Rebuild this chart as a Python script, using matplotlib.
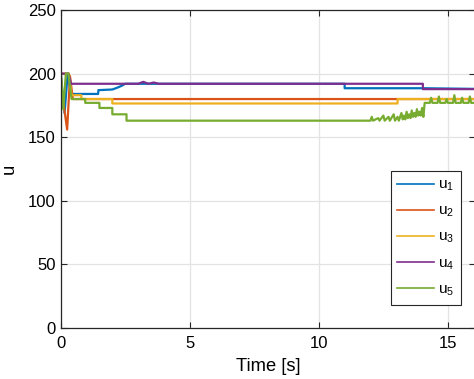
import matplotlib
matplotlib.use("Agg")
import matplotlib.pyplot as plt

plt.rcParams["font.family"] = ["Liberation Sans", "DejaVu Sans"]
plt.rcParams["mathtext.fontset"] = "custom"
plt.rcParams["mathtext.rm"] = "Liberation Sans"
plt.rcParams["mathtext.it"] = "Liberation Sans"

# --- data ---
t_u1 = [0, 0.15, 0.27, 0.4, 1.45, 1.46, 2.0, 2.2, 2.37, 2.5, 11.0, 11.0, 14.05, 16.05]
u1 = [200, 169, 200, 184, 184, 187, 187.5, 189, 190.5, 192, 192, 188.5, 188.5, 188]

t_u2 = [0, 0.05, 0.25, 0.36, 0.47, 16.05]
u2 = [200, 185, 156, 198, 180, 180]

t_u3 = [0, 0.32, 0.42, 0.8, 0.8, 2.0, 2.0, 13.05, 13.05, 16.05]
u3 = [200, 200, 183, 183, 180, 180, 176.5, 176.5, 180, 180]

t_u4 = [0, 0.3, 0.4, 3.0, 3.2, 3.4, 3.6, 3.8, 14.03, 14.03, 16.05]
u4 = [200, 200, 192, 192, 193.5, 192, 193, 192, 192, 187.8, 187.8]

t_u5 = [0, 0.01, 0.1, 0.2, 0.3, 0.42, 0.95, 0.95, 1.5, 1.5, 2.0, 2.0, 2.55, 2.55,
        12.0, 12.05, 12.1, 12.3, 12.35, 12.5, 12.55, 12.7, 12.75, 12.9, 12.95,
        13.05, 13.1, 13.2, 13.25, 13.3, 13.35, 13.4, 13.45, 13.5, 13.55, 13.6,
        13.65, 13.7, 13.75, 13.8, 13.85, 13.9, 13.95, 14.0, 14.05, 14.1,
        14.3, 14.35, 14.4, 14.6, 14.65, 14.7, 14.9, 14.95, 15.0, 15.2, 15.25,
        15.3, 15.5, 15.55, 15.6, 15.8, 15.85, 15.9, 16.05]
u5 = [0, 200, 172, 200, 200, 180, 180, 177, 177, 173, 173, 168, 168, 163,
      163, 166, 163, 165, 163, 167, 163, 166, 163, 168, 163,
      166, 163, 169, 164, 167, 164, 170, 165, 168, 165, 171,
      166, 169, 166, 172, 167, 170, 167, 173, 166, 177,
      177, 181, 177, 177, 182, 177, 177, 180, 177, 177, 183,
      177, 177, 181, 177, 177, 182, 177, 177]

series = [(t_u1, u1), (t_u2, u2), (t_u3, u3), (t_u4, u4), (t_u5, u5)]
labels = [r"$\mathregular{u_1}$", r"$\mathregular{u_2}$", r"$\mathregular{u_3}$",
          r"$\mathregular{u_4}$", r"$\mathregular{u_5}$"]
colors = ["#0072BD", "#D95319", "#EDB120", "#7E2F8E", "#77AC30"]

xticks = [0, 5, 10, 15]
yticks = [0, 50, 100, 150, 200, 250]

# --- plot ---
fig = plt.figure(figsize=(4.74, 3.79), dpi=100)
ax = fig.add_axes([60.7 / 474, 1 - 328 / 379, (475 - 60.7) / 474, (328 - 10) / 379])

for (t, u), lab, c in zip(series, labels, colors):
    ax.plot(t, u, color=c, lw=1.6, label=lab)

ax.set_xlim(0, 16.05)
ax.set_ylim(0, 250)
ax.set_xticks(xticks)
ax.set_yticks(yticks)
ax.grid(True, color="#e3e3e3", lw=0.9)
ax.set_axisbelow(True)
for s in ax.spines.values():
    s.set_color("#262626")
    s.set_linewidth(0.9)
ax.tick_params(direction="in", top=True, right=True, length=4, width=0.8,
               colors="#262626", labelsize=12, labelcolor="black")
ax.tick_params(axis="x", pad=6)
ax.set_xlabel("Time [s]", fontsize=13.2, labelpad=5)
ax.set_ylabel("u", fontsize=13.2)
ax.yaxis.set_label_coords(-0.104, 0.5)

leg = ax.legend(loc="upper right", bbox_to_anchor=(461 / 474, 1 - 171 / 379),
                bbox_transform=fig.transFigure, borderaxespad=0, fancybox=False,
                fontsize=11, handlelength=2.4, labelspacing=0.7, handletextpad=0.25,
                borderpad=0.45, framealpha=1)
leg.get_frame().set_edgecolor("#262626")
leg.get_frame().set_linewidth(0.8)
for line in leg.get_lines():
    line.set_linewidth(1.2)

fig.savefig("out.png", dpi=100)
